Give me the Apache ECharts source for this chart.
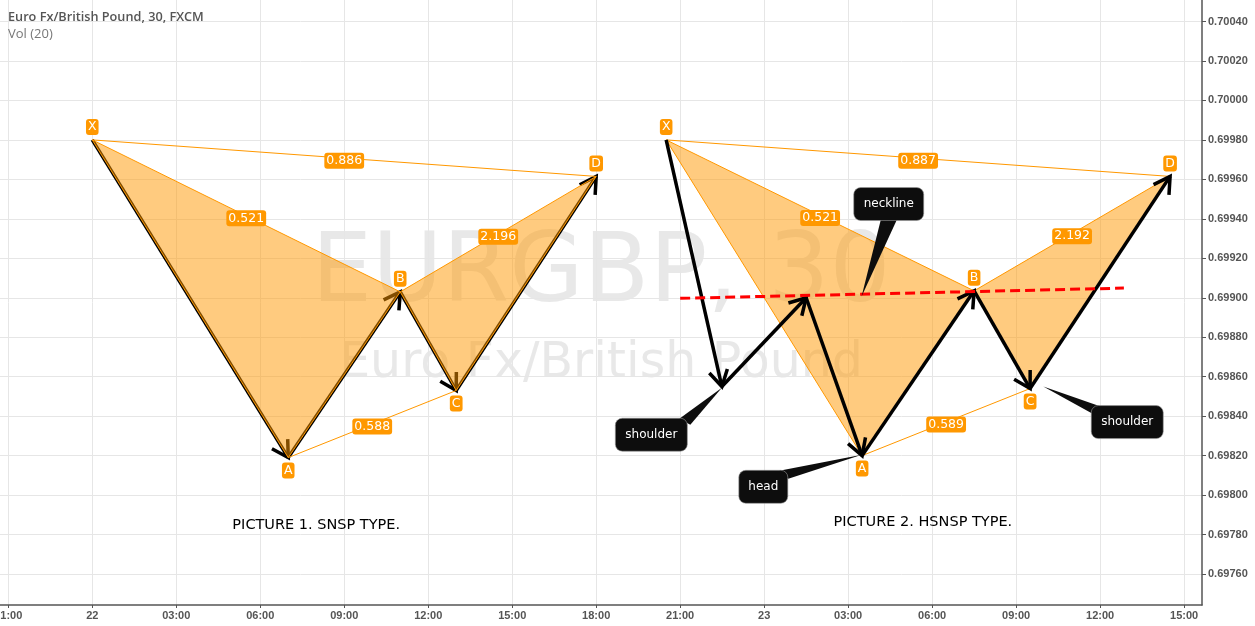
<!DOCTYPE html>
<html><head><meta charset="utf-8"><style>html,body{margin:0;padding:0;background:#fff}#c{width:1255px;height:626px}</style>
<script src="https://cdn.jsdelivr.net/npm/echarts@6/dist/echarts.min.js"></script></head>
<body><div id="c"></div>
<script>
// Axis ticks
const xTickHours = [0,3,6,9,12,15,18,21,24,27,30,33,36,39,42];
const xTickLabels = ['21:00','22','03:00','06:00','09:00','12:00','15:00','18:00','21:00','23','03:00','06:00','09:00','12:00','15:00'];
const yTicks = [0.6976,0.6978,0.698,0.6982,0.6984,0.6986,0.6988,0.699,0.6992,0.6994,0.6996,0.6998,0.7,0.7002,0.7004];
// Pattern vertices (hours from first tick, price)
const vertexNames = ['X','A','B','C','D'];
const p1Hours = [3,10,14,16,21];
const p1Prices = [0.6998,0.69819,0.69903,0.69853,0.699615];
const p1Ratios = ['0.886','0.521','0.588','2.196'];
const p2Hours = [23.5,30.5,34.5,36.5,41.5];
const p2Prices = [0.6998,0.6982,0.699035,0.69854,0.699615];
const p2Ratios = ['0.887','0.521','0.589','2.192'];
// Black arrow path of picture 2 (picture 1 follows its vertices)
const arrow2Hours = [23.5,25.49,28.5,30.5,34.5,36.5,41.5];
const arrow2Prices = [0.6998,0.69855,0.699,0.6982,0.699035,0.69854,0.699615];
// Neckline
const neckHours = [24,39.85];
const neckPrices = [0.698997,0.699049];
// Callouts
const calloutNames = ['shoulder','head','shoulder','neckline'];
const calloutHours = [22.97,26.97,39.97,31.45];
const calloutPrices = [0.698306,0.698042,0.69837,0.699475];
const calloutTipHours = [25.49,30.49,36.97,30.48];
const calloutTipPrices = [0.698544,0.698204,0.69855,0.699006];
// Captions
const captionTexts = ['PICTURE 1. SNSP TYPE.','PICTURE 2. HSNSP TYPE.'];
const captionHours = [11,32.67];
const captionPrices = [0.697845,0.69786];

// Styles
const ORANGE='#ff9800', FILL='rgba(255,152,0,0.5)';
const calloutSize=[[72,33],[49,33],[72,33],[70,33]];
const calloutBase=[[[28,-16],[39,-10]],[[16,-16],[25,-8]],[[-28,-16],[-36,-9]],[[-8,16],[8,16]]];
const xy=(h,p)=>h.map((v,i)=>[v,p[i]]);
const mid=(a,b)=>[(a[0]+b[0])/2,(a[1]+b[1])/2];

function triangleSeries(pts,z){
  const tris=[[pts[0],pts[1],pts[2]],[pts[2],pts[3],pts[4]]];
  return {type:'custom',z,silent:true,clip:false,coordinateSystem:'cartesian2d',
    data:tris.map(t=>t.flat()),
    encode:{x:[0,2,4],y:[1,3,5]},
    renderItem:(_,api)=>({type:'polygon',shape:{points:[0,2,4].map(k=>api.coord([api.value(k),api.value(k+1)]))},style:{fill:FILL,stroke:null}})};
}
function edge(data){return {type:'line',z:4,silent:true,symbol:'none',data,lineStyle:{color:ORANGE,width:1},animation:false};}
function edges(pts){return [edge(pts),edge([pts[0],pts[2]]),edge([pts[2],pts[4]]),edge([pts[0],pts[4]]),edge([pts[1],pts[3]])];}
function arrowSeries(path,z){
  const segs=path.slice(1).map((p,i)=>[...path[i],...p]);
  return {type:'custom',z,silent:true,clip:false,data:segs,encode:{x:[0,2],y:[1,3]},
    renderItem:(_,api)=>{
      const a=api.coord([api.value(0),api.value(1)]),b=api.coord([api.value(2),api.value(3)]);
      const ang=Math.atan2(a[1]-b[1],a[0]-b[0]),L=18.5,d=Math.PI/6;
      const ln={stroke:'#000',lineWidth:3.5,fill:null};
      return {type:'group',children:[
        {type:'polyline',shape:{points:[a,b]},style:ln},
        {type:'polyline',shape:{points:[[b[0]+L*Math.cos(ang+d),b[1]+L*Math.sin(ang+d)],b,[b[0]+L*Math.cos(ang-d),b[1]+L*Math.sin(ang-d)]]},style:ln}
      ]};
    }};
}
function tagSeries(data,formatter,position,distance,padding,offset){
  return {type:'scatter',z:7,silent:true,symbolSize:0,itemStyle:{opacity:1},data,
    label:{show:true,opacity:1,position,distance,offset:offset||[0,0],formatter,color:'#fff',fontFamily:'DejaVu Sans',fontSize:12.5,lineHeight:14,
      backgroundColor:ORANGE,borderRadius:3,padding}};
}
function patternLabels(pts,ratios){
  const rp=[mid(pts[0],pts[4]),mid(pts[0],pts[2]),mid(pts[1],pts[3]),mid(pts[2],pts[4])];
  return [
    tagSeries(rp.map((p,i)=>({value:p,name:ratios[i]})),'{b}','inside',0,[1,2,1,2],[0,2.5]),
    tagSeries([0,2,4].map(i=>({value:pts[i],name:vertexNames[i]})),'{b}','top',5,[1,2,1,2]),
    tagSeries([1,3].map(i=>({value:pts[i],name:vertexNames[i]})),'{b}','bottom',5,[1,2,1,2])
  ];
}
const p1=xy(p1Hours,p1Prices), p2=xy(p2Hours,p2Prices);
const series=[
  arrowSeries(p1,2),
  triangleSeries(p1,3),
  triangleSeries(p2,3),
  ...edges(p1),...edges(p2),
  {type:'line',z:5,silent:true,symbol:'none',data:xy(neckHours,neckPrices),lineStyle:{color:'#ff0000',width:3,type:[10,5]}},
  arrowSeries(xy(arrow2Hours,arrow2Prices),5),
  {type:'custom',z:6,silent:true,clip:false,
    data:calloutNames.map((n,i)=>[calloutHours[i],calloutPrices[i],calloutTipHours[i],calloutTipPrices[i],i]),
    encode:{x:[0,2],y:[1,3]},
    renderItem:(_,api)=>{
      const c=api.coord([api.value(0),api.value(1)]),t=api.coord([api.value(2),api.value(3)]),i=api.value(4);
      const [w,h]=calloutSize[i],b=calloutBase[i];
      return {type:'group',children:[
        {type:'polygon',shape:{points:[t,[c[0]+b[0][0],c[1]+b[0][1]],[c[0]+b[1][0],c[1]+b[1][1]]]},style:{fill:'#0d0d0d'}},
        {type:'rect',shape:{x:c[0]-w/2,y:c[1]-h/2,width:w,height:h,r:7},style:{fill:'#0d0d0d',stroke:'#999',lineWidth:0.6}},
        {type:'text',x:c[0],y:c[1],style:{text:calloutNames[i],fill:'#fff',font:'12px "DejaVu Sans"',align:'center',verticalAlign:'middle'}}
      ]};
    }},
  {type:'scatter',z:7,silent:true,symbolSize:0,itemStyle:{opacity:1},
    data:captionTexts.map((t,i)=>({value:[captionHours[i],captionPrices[i]],name:t})),
    label:{show:true,opacity:1,position:'inside',formatter:'{b}',color:'#000',fontFamily:'DejaVu Sans',fontSize:14.5}},
  ...patternLabels(p1,p1Ratios),...patternLabels(p2,p2Ratios)
];

const chart=echarts.init(document.getElementById('c'),null,{renderer:'canvas'});
const axisLabelBase={color:'#555',fontFamily:'Liberation Sans',fontSize:11,fontWeight:'bold'};
chart.setOption({
  animation:false,backgroundColor:'#fff',tooltip:{show:false},legend:{show:false},
  grid:{left:0,top:0,right:53,bottom:21,containLabel:false,outerBoundsMode:'none'},
  title:[
    {text:'Euro Fx/British Pound, 30, FXCM',left:8,top:11,padding:0,textStyle:{color:'#555',fontFamily:'Open Sans',fontSize:12.7,fontWeight:600}},
    {text:'Vol (20)',left:8,top:28,padding:0,textStyle:{color:'#777',fontFamily:'Open Sans',fontSize:13,fontWeight:400}}
  ],
  graphic:[
    {type:'text',z:0,x:601,y:276,silent:true,style:{text:'EURGBP, 30',fill:'#e6e6e6',opacity:0.9,font:'96px "DejaVu Sans"',align:'center',verticalAlign:'middle'}},
    {type:'text',z:0,x:601,y:364,silent:true,style:{text:'Euro Fx/British Pound',fill:'#e6e6e6',opacity:0.9,font:'49px "DejaVu Sans"',align:'center',verticalAlign:'middle'}}
  ],
  xAxis:{type:'value',min:-0.296,max:42.64,position:'bottom',
    axisLine:{show:true,onZero:false,lineStyle:{color:'#555',width:1.5}},
    axisTick:{show:true,length:3,customValues:xTickHours,lineStyle:{color:'#555'}},
    axisLabel:{...axisLabelBase,margin:5,customValues:xTickHours,hideOverlap:false,showMinLabel:true,showMaxLabel:true,
      formatter:v=>xTickLabels[xTickHours.indexOf(v)]??''},
    splitLine:{show:true,lineStyle:{color:'#e6e6e6',width:1}}},
  yAxis:{type:'value',min:0.697443,max:0.700509,position:'right',
    axisLine:{show:true,onZero:false,lineStyle:{color:'#555',width:1.5}},
    axisTick:{show:true,length:4,customValues:yTicks,lineStyle:{color:'#555'}},
    axisLabel:{...axisLabelBase,margin:6,customValues:yTicks,padding:[2,0,0,0],formatter:v=>v.toFixed(5)},
    splitLine:{show:true,lineStyle:{color:'#e6e6e6',width:1}}},
  series
});
</script></body></html>
